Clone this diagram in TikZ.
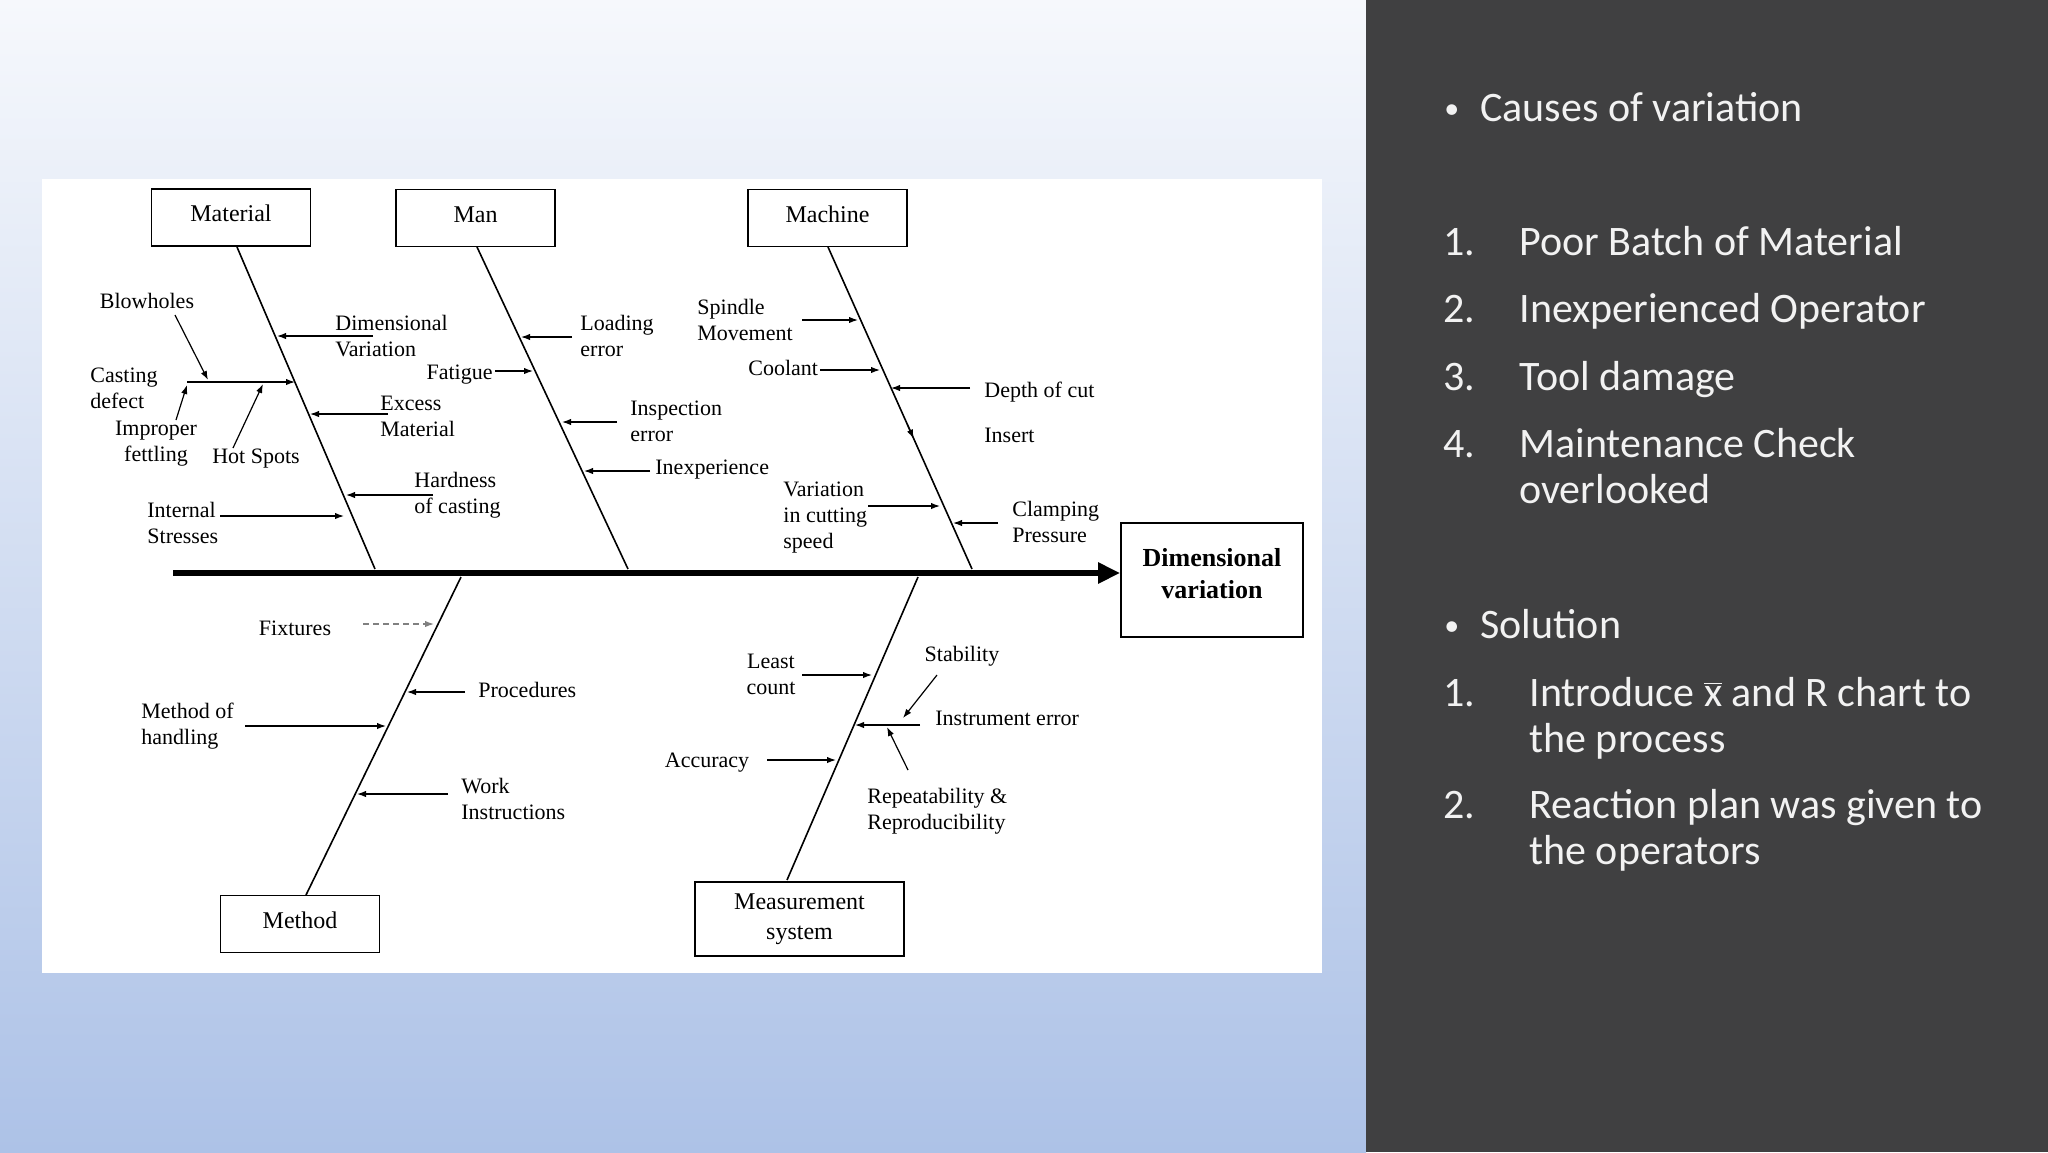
\documentclass[tikz,border=0pt]{standalone}
\usepackage{fontspec}
\setmainfont{Liberation Serif}
\newfontfamily\calib{Carlito}
\usetikzlibrary{arrows.meta,calc}
\definecolor{panel}{HTML}{404041}
\definecolor{bgtop}{HTML}{F6F8FC}
\definecolor{bgbot}{HTML}{ADC2E7}
\definecolor{paneltext}{HTML}{F2F2F2}
\begin{document}
\begin{tikzpicture}[x=0.5pt,y=-0.5pt,
  box/.style={draw,line width=0.9pt,minimum width=79.5pt,minimum height=28.5pt,inner sep=0pt,font=\fontsize{12}{15}\selectfont,align=center},
  onebox/.style={box,text height=8pt,text depth=4pt},
  lbl/.style={inner sep=0pt,font=\fontsize{11}{13}\selectfont,align=left},
  lblc/.style={lbl,align=center},
  bone/.style={line width=0.8pt},
  arr/.style={line width=0.6pt,-{Latex[length=4.5pt,width=3.2pt]}},
  farr/.style={arr,gray,densely dashed},
  rt/.style={inner sep=0pt,anchor=base west,font=\calib\fontsize{21}{23}\selectfont,text=paneltext},
  bul/.style={rt,font=\calib\fontsize{15}{15}\selectfont}
]
\useasboundingbox (0,0) rectangle (2048,1152);
\shade[top color=bgtop,bottom color=bgbot] (0,0) rectangle (1366,1152);
\fill[panel] (1366,0) rectangle (2048,1152);
\fill[white] (42,179) rectangle (1322,973);

% category boxes
\node[onebox] (mat) at (231,217.5) {Material};
\node[onebox] (man) at (475.5,218) {Man};
\node[onebox] (mac) at (827.5,218) {Machine};
\node[onebox] (met) at (300,924) {Method};
\node[box,minimum width=104.5pt,minimum height=37pt] (mea) at (799.5,919) {Measurement\\system};
\node[box,minimum width=91pt,minimum height=57pt] (dv) at (1212,580) {};
\node[inner sep=0pt,align=center,font=\bfseries\fontsize{13}{16}\selectfont] (dvt) at (1212,574) {Dimensional\\variation};

% spine
\coordinate (sp0) at (173,573);
\draw[line width=3.4pt,-{Triangle[length=11pt,width=10pt]}] (sp0) -- (sp0 -| dv.west);

% bones
\coordinate (matA) at (237,247); \coordinate (matB) at (375,569);
\coordinate (manA) at (477,247); \coordinate (manB) at (628,569);
\coordinate (macA) at (828,247); \coordinate (macB) at (972,569);
\coordinate (metA) at (306,895); \coordinate (metB) at (461,577);
\coordinate (meaA) at (787,880); \coordinate (meaB) at (918,577);
\draw[bone] (matA) -- (matB);
\draw[bone] (manA) -- (manB);
\draw[bone] (macA) -- (macB);
\draw[bone] (metA) -- (metB);
\draw[bone] (meaA) -- (meaB);

% ---- Material causes
\node[lblc] (blow) at (147,301) {Blowholes};
\node[lbl,anchor=west] (cast) at (90,388.5) {Casting\\defect};
\node[lblc] (impr) at (156,443.5) {Improper\\fettling};
\node[lblc] (hot) at (256,459) {Hot Spots};
\node[lbl,anchor=west] (dimv) at (335,336.5) {Dimensional\\Variation};
\node[lbl,anchor=west] (exc) at (380,416.5) {Excess\\Material};
\node[lbl,anchor=west] (hard) at (414,495.5) {Hardness\\of casting};
\node[lbl,anchor=west] (intr) at (147,522.5) {Internal\\Stresses};

\coordinate (cbS) at (187,382); \coordinate (cbE) at (295,382);
\coordinate (blS) at (175,315); \coordinate (blE) at (208,380);
\coordinate (imS) at (176,420); \coordinate (imE) at (187,385);
\coordinate (hoS) at (233,448); \coordinate (hoE) at (263,384);
\coordinate (dvS) at (373,336); \coordinate (dvE) at (277,336);
\coordinate (exS) at (388,414); \coordinate (exE) at (310,414);
\coordinate (haS) at (433,495); \coordinate (haE) at (346,495);
\coordinate (inS) at (220,516); \coordinate (inE) at (344,516);
\draw[arr] (cbS) -- (cbE);
\draw[arr] (blS) -- (blE);
\draw[arr] (imS) -- (imE);
\draw[arr] (hoS) -- (hoE);
\draw[arr] (dvS) -- (dvE);
\draw[arr] (exS) -- (exE);
\draw[arr] (haS) -- (haE);
\draw[arr] (inS) -- (inE);

% ---- Man causes
\node[lbl,anchor=west] (load) at (580,336) {Loading\\error};
\node[lbl,anchor=east] (fat) at (493,375) {Fatigue};
\node[lbl,anchor=west] (insp) at (630,421.5) {Inspection\\error};
\node[lbl,anchor=west] (inex) at (655,470) {Inexperience};
\coordinate (loS) at (572,337); \coordinate (loE) at (521,337);
\coordinate (faS) at (495,371); \coordinate (faE) at (533,371);
\coordinate (isS) at (617,422); \coordinate (isE) at (562,422);
\coordinate (ixS) at (650,471); \coordinate (ixE) at (584,471);
\draw[arr] (loS) -- (loE);
\draw[arr] (faS) -- (faE);
\draw[arr] (isS) -- (isE);
\draw[arr] (ixS) -- (ixE);

% ---- Machine causes
\node[lbl,anchor=west] (spin) at (697,320) {Spindle\\Movement};
\node[lbl,anchor=west] (cool) at (748,368) {Coolant};
\node[lbl,anchor=west] (dep) at (984,392) {Depth of cut};
\node[lbl,anchor=west] (ins) at (984,435) {Insert};
\node[lbl,anchor=west] (vcs) at (783,518) {Variation\\in cutting\\speed};
\node[lbl,anchor=west] (clp) at (1012,521.5) {Clamping\\Pressure};
\coordinate (spS) at (802,320); \coordinate (spE) at (858,320);
\coordinate (coS) at (820,370); \coordinate (coE) at (880,370);
\coordinate (deS) at (970,388); \coordinate (deE) at (891,388);
\coordinate (vcS) at (868,506); \coordinate (vcE) at (940,506);
\coordinate (clS) at (998,523); \coordinate (clE) at (953,523);
\draw[arr] (spS) -- (spE);
\draw[arr] (coS) -- (coE);
\draw[arr] (deS) -- (deE);
\draw[arr] ($(macA)!0.55!(macB)$) -- ($(macA)!0.595!(macB)$);
\draw[arr] (vcS) -- (vcE);
\draw[arr] (clS) -- (clE);

% ---- Method causes
\node[lblc] (fix) at (295,628) {Fixtures};
\node[lbl,anchor=west] (proc) at (478,690) {Procedures};
\node[lbl,anchor=west] (moh) at (141,726.5) {Method of\\handling};
\node[lbl,anchor=west] (wrk) at (461,799) {Work\\Instructions};
\coordinate (fxS) at (363,624); \coordinate (fxE) at (434,624);
\coordinate (prS) at (465,692); \coordinate (prE) at (407,692);
\coordinate (mhS) at (245,726); \coordinate (mhE) at (386,726);
\coordinate (wkS) at (448,794); \coordinate (wkE) at (357,794);
\draw[farr] (fxS) -- (fxE);
\draw[arr] (prS) -- (prE);
\draw[arr] (mhS) -- (mhE);
\draw[arr] (wkS) -- (wkE);

% ---- Measurement causes
\node[lblc] (lc) at (771,674) {Least\\count};
\node[lblc] (stab) at (962,656) {Stability};
\node[lbl,anchor=west] (ierr) at (935,718) {Instrument error};
\node[lblc] (acc) at (707,763) {Accuracy};
\node[lbl,anchor=west] (rr) at (867,811.5) {Repeatability \&\\Reproducibility};
\coordinate (lcS) at (802,675); \coordinate (lcE) at (872,675);
\coordinate (stS) at (937,675); \coordinate (stE) at (903,718);
\coordinate (ieS) at (920,725); \coordinate (ieE) at (855,725);
\coordinate (acS) at (767,760); \coordinate (acE) at (836,760);
\coordinate (rrS) at (908,770); \coordinate (rrE) at (887,727);
\draw[arr] (lcS) -- (lcE);
\draw[arr] (stS) -- (stE);
\draw[arr] (ieS) -- (ieE);
\draw[arr] (acS) -- (acE);
\draw[arr] (rrS) -- (rrE);

% ---- right panel text
\node[bul] (bu1) at (1444,118) {•};
\node[rt] (h1) at (1480,121) {Causes of variation};
\node[rt] (n1) at (1443,255) {1.};
\node[rt] (c1) at (1519,255) {Poor Batch of Material};
\node[rt] (n2) at (1443,322) {2.};
\node[rt] (c2) at (1519,322) {Inexperienced Operator};
\node[rt] (n3) at (1443,390) {3.};
\node[rt] (c3) at (1519,390) {Tool damage};
\node[rt] (n4) at (1443,457) {4.};
\node[rt] (c4a) at (1519,457) {Maintenance Check};
\node[rt] (c4b) at (1519,503) {overlooked};
\node[bul] (bu2) at (1444,635) {•};
\node[rt] (h2) at (1480,638) {Solution};
\node[rt] (s1n) at (1443,706) {1.};
\node[rt] (s1a) at (1529,706) {Introduce \(\overline{\hbox{x}}\) and R chart to};
\node[rt] (s1b) at (1529,752) {the process};
\node[rt] (s2n) at (1443,818) {2.};
\node[rt] (s2a) at (1529,818) {Reaction plan was given to};
\node[rt] (s2b) at (1529,864) {the operators};
\end{tikzpicture}
\end{document}
